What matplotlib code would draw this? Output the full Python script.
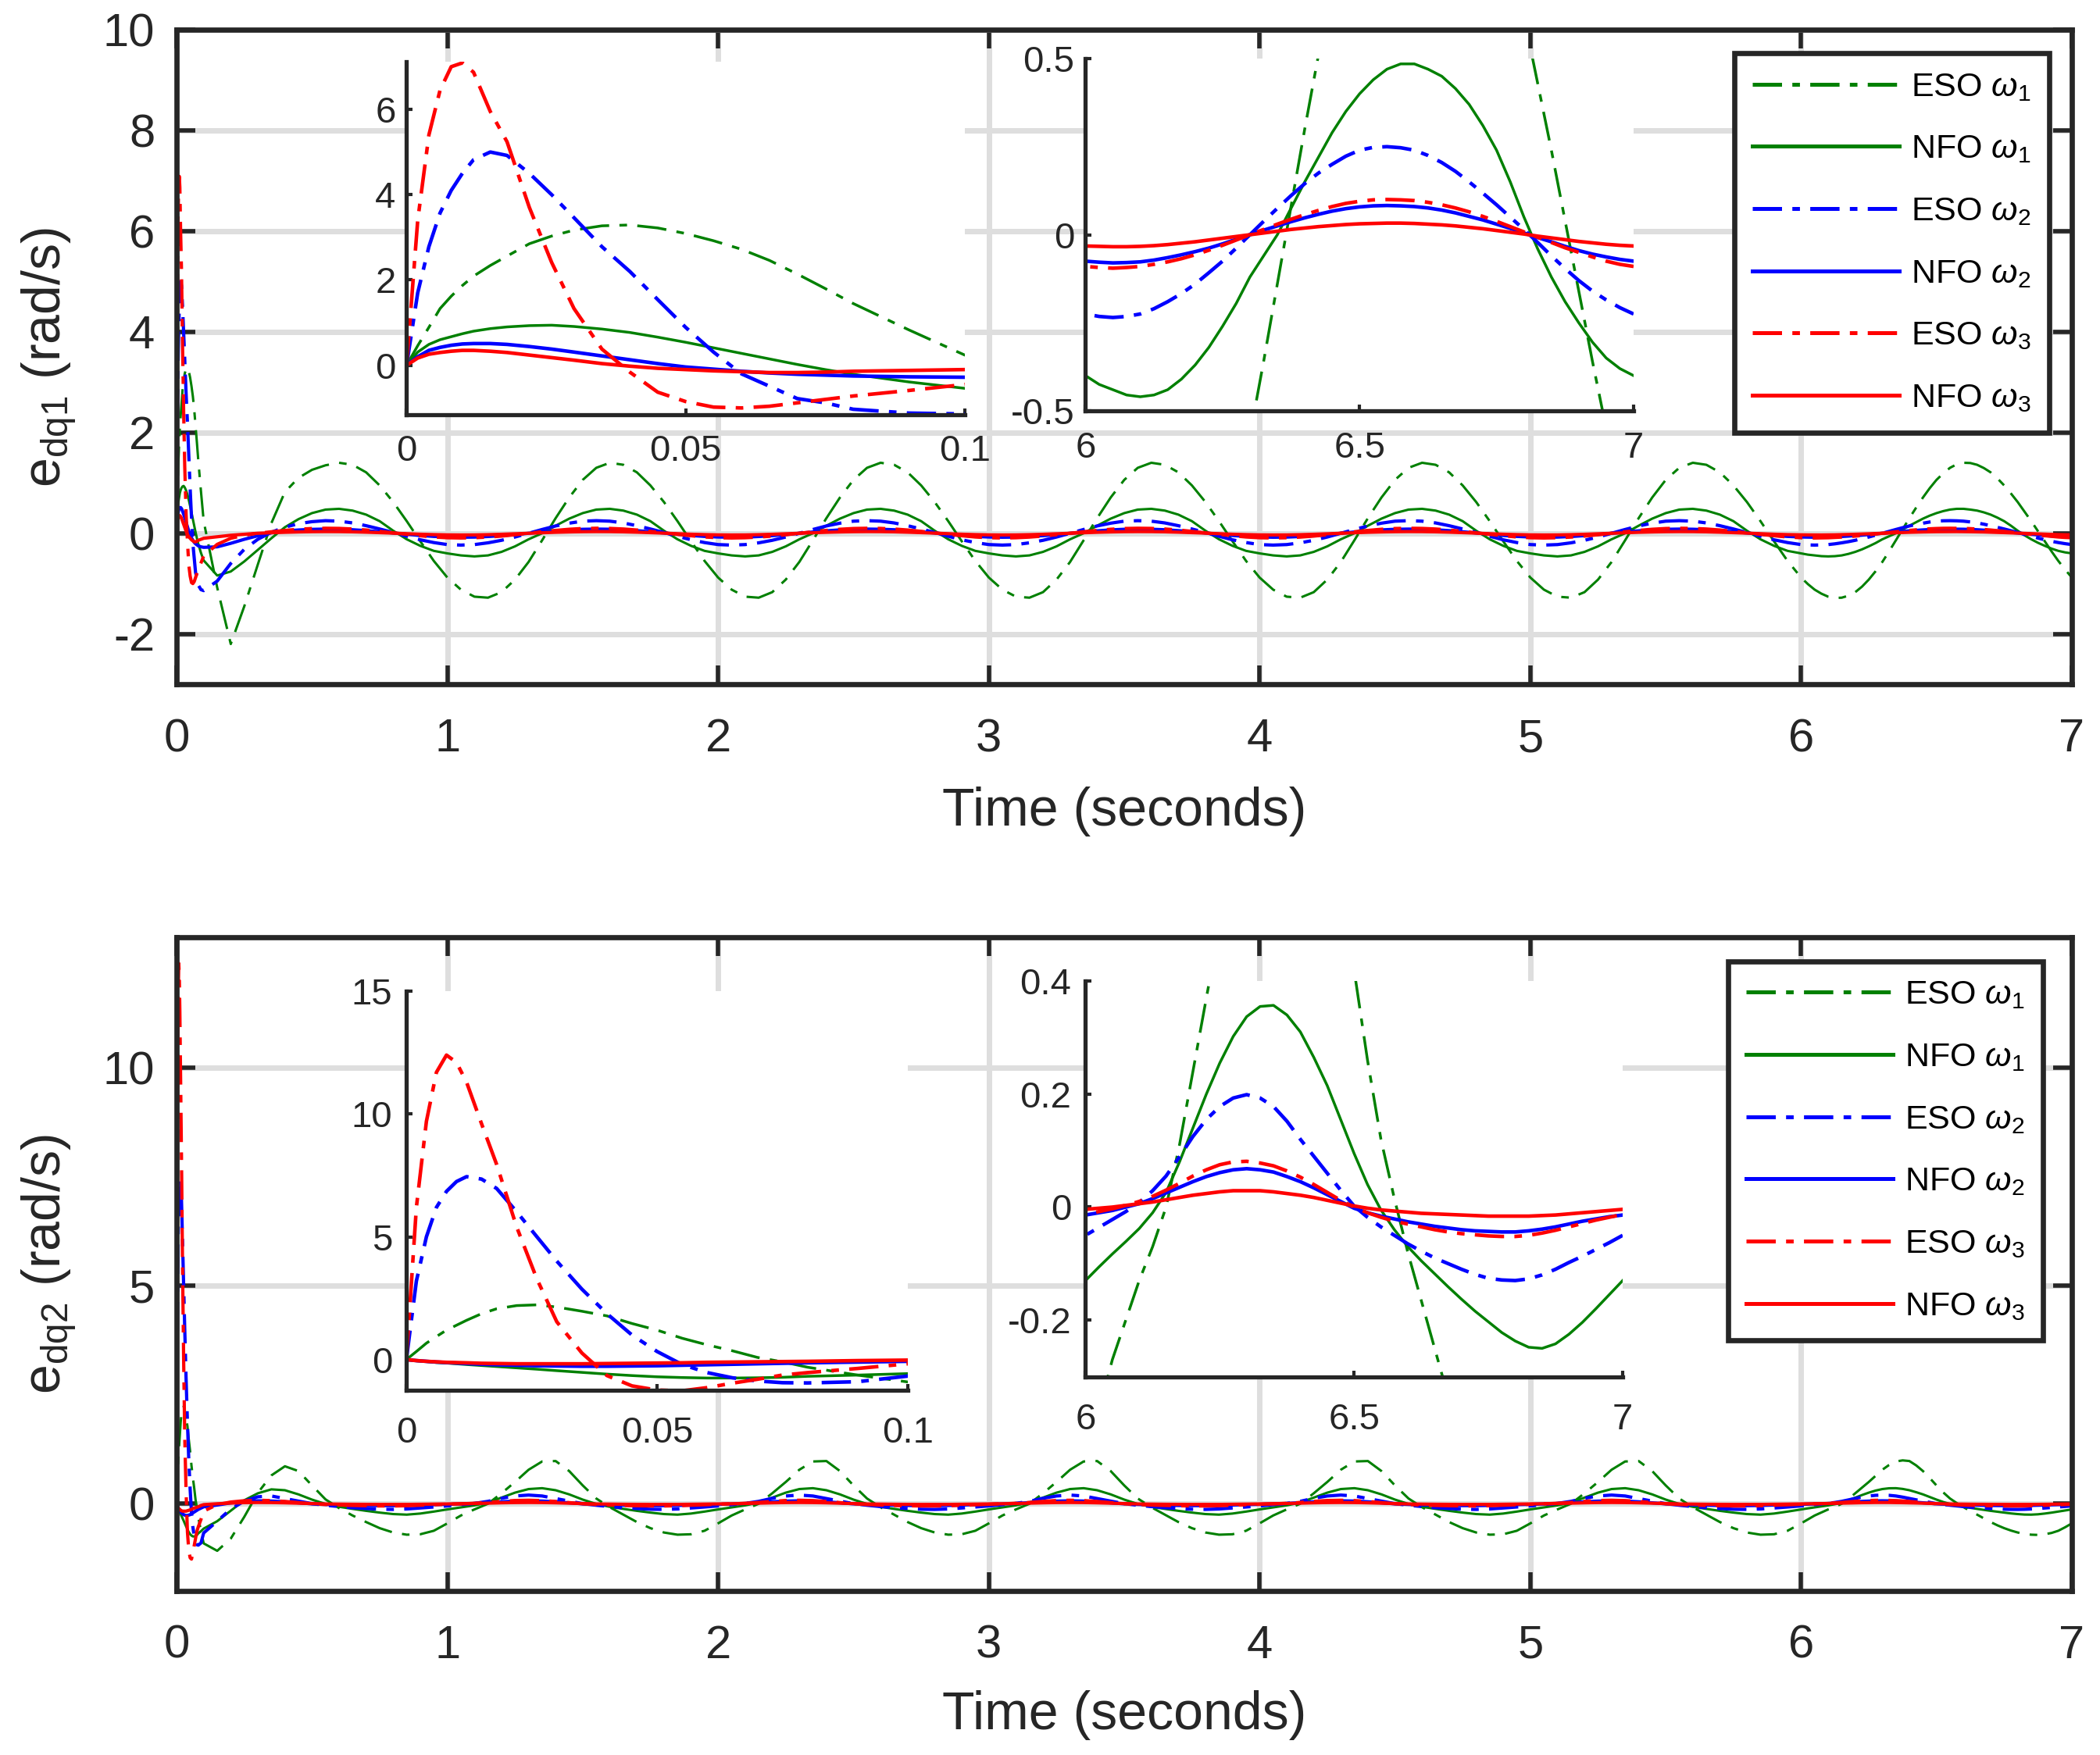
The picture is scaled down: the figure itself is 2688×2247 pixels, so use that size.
import matplotlib
matplotlib.use("Agg")
import matplotlib.pyplot as plt

plt.rcParams["font.family"] = ["Liberation Sans", "DejaVu Sans"]
plt.rcParams["mathtext.fontset"] = "custom"
plt.rcParams["mathtext.rm"] = "Liberation Sans"
plt.rcParams["mathtext.it"] = "Liberation Sans:italic"
plt.rcParams["axes.unicode_minus"] = False
plt.rcParams["lines.scale_dashes"] = False

# -----------------------------
# Data
# -----------------------------
# time samples: fine grid over the first 0.1 s, every 0.05 s up to 6 s,
# every 0.025 s over the last second (zoomed in the right-hand insets)
t_fine = [0, 0.002, 0.004, 0.006, 0.008, 0.010, 0.012, 0.015, 0.018, 0.022, 0.026, 0.030,
          0.035, 0.040, 0.045, 0.050, 0.055, 0.060, 0.065, 0.070, 0.075, 0.080, 0.090, 0.100]
t_rest = [
    0.15, 0.20, 0.25, 0.30, 0.35, 0.40, 0.45, 0.50, 0.55, 0.60, 0.65, 0.70, 0.75, 0.80, 0.85, 0.90, 0.95,
    1.00, 1.05, 1.10, 1.15, 1.20, 1.25, 1.30, 1.35, 1.40, 1.45, 1.50, 1.55, 1.60, 1.65, 1.70, 1.75, 1.80, 1.85, 1.90, 1.95,
    2.00, 2.05, 2.10, 2.15, 2.20, 2.25, 2.30, 2.35, 2.40, 2.45, 2.50, 2.55, 2.60, 2.65, 2.70, 2.75, 2.80, 2.85, 2.90, 2.95,
    3.00, 3.05, 3.10, 3.15, 3.20, 3.25, 3.30, 3.35, 3.40, 3.45, 3.50, 3.55, 3.60, 3.65, 3.70, 3.75, 3.80, 3.85, 3.90, 3.95,
    4.00, 4.05, 4.10, 4.15, 4.20, 4.25, 4.30, 4.35, 4.40, 4.45, 4.50, 4.55, 4.60, 4.65, 4.70, 4.75, 4.80, 4.85, 4.90, 4.95,
    5.00, 5.05, 5.10, 5.15, 5.20, 5.25, 5.30, 5.35, 5.40, 5.45, 5.50, 5.55, 5.60, 5.65, 5.70, 5.75, 5.80, 5.85, 5.90, 5.95,
    6.000, 6.025, 6.050, 6.075, 6.100, 6.125, 6.150, 6.175, 6.200, 6.225, 6.250, 6.275, 6.300, 6.325, 6.350, 6.375,
    6.400, 6.425, 6.450, 6.475, 6.500, 6.525, 6.550, 6.575, 6.600, 6.625, 6.650, 6.675, 6.700, 6.725, 6.750, 6.775,
    6.800, 6.825, 6.850, 6.875, 6.900, 6.925, 6.950, 6.975,
    7.00,
]
time = t_fine + t_rest

# ---- e_dq1 (top panel) ----
eso1_dq1 = [
    0, 0.46, 0.89, 1.33, 1.62, 1.87, 2.09, 2.34, 2.56, 2.85, 3.03, 3.17, 3.27, 3.29, 3.22, 3.09, 2.92, 2.72, 2.46, 2.14, 1.80, 1.45, 0.83, 0.24,
    -1.08, -2.20, -1.45, -0.62, 0.20, 0.82, 1.10, 1.26, 1.35, 1.40, 1.36, 1.21, 0.95, 0.62, 0.24, -0.16, -0.55,
    -0.88, -1.12, -1.26, -1.28, -1.17, -0.92, -0.57, -0.14, 0.30, 0.71, 1.06, 1.30, 1.40, 1.36, 1.21, 0.95, 0.62, 0.24, -0.16, -0.55,
    -0.88, -1.12, -1.26, -1.28, -1.17, -0.92, -0.57, -0.14, 0.30, 0.71, 1.06, 1.30, 1.40, 1.36, 1.21, 0.95, 0.62, 0.24, -0.16, -0.55,
    -0.88, -1.12, -1.26, -1.28, -1.17, -0.92, -0.57, -0.14, 0.30, 0.71, 1.06, 1.30, 1.40, 1.36, 1.21, 0.95, 0.62, 0.24, -0.16, -0.55,
    -0.88, -1.12, -1.26, -1.28, -1.17, -0.92, -0.57, -0.14, 0.30, 0.71, 1.06, 1.30, 1.40, 1.36, 1.21, 0.95, 0.62, 0.24, -0.16, -0.55,
    -0.88, -1.12, -1.26, -1.28, -1.17, -0.92, -0.57, -0.14, 0.30, 0.71, 1.06, 1.30, 1.40, 1.36, 1.21, 0.95, 0.62, 0.24, -0.16, -0.55,
    -0.88, -1.01, -1.12, -1.20, -1.26, -1.285, -1.28, -1.24, -1.17, -1.06, -0.92, -0.755, -0.57, -0.36, -0.14, 0.08,
    0.30, 0.51, 0.71, 0.895, 1.06, 1.19, 1.30, 1.37, 1.40, 1.395, 1.36, 1.295, 1.21, 1.09, 0.95, 0.79,
    0.62, 0.43, 0.24, 0.04, -0.16, -0.36, -0.55, -0.72,
    -0.88,
]
nfo1_dq1 = [
    0, 0.31, 0.49, 0.60, 0.67, 0.74, 0.80, 0.86, 0.90, 0.93, 0.94, 0.91, 0.85, 0.77, 0.66, 0.54, 0.41, 0.28, 0.15, 0.02, -0.10, -0.21, -0.39, -0.54,
    -0.84, -0.76, -0.56, -0.33, -0.10, 0.12, 0.28, 0.40, 0.47, 0.485, 0.45, 0.37, 0.24, 0.05, -0.12, -0.25, -0.35,
    -0.40, -0.44, -0.46, -0.44, -0.37, -0.26, -0.12, 0.00, 0.15, 0.29, 0.40, 0.47, 0.485, 0.45, 0.37, 0.24, 0.05, -0.12, -0.25, -0.35,
    -0.40, -0.44, -0.46, -0.44, -0.37, -0.26, -0.12, 0.00, 0.15, 0.29, 0.40, 0.47, 0.485, 0.45, 0.37, 0.24, 0.05, -0.12, -0.25, -0.35,
    -0.40, -0.44, -0.46, -0.44, -0.37, -0.26, -0.12, 0.00, 0.15, 0.29, 0.40, 0.47, 0.485, 0.45, 0.37, 0.24, 0.05, -0.12, -0.25, -0.35,
    -0.40, -0.44, -0.46, -0.44, -0.37, -0.26, -0.12, 0.00, 0.15, 0.29, 0.40, 0.47, 0.485, 0.45, 0.37, 0.24, 0.05, -0.12, -0.25, -0.35,
    -0.40, -0.44, -0.46, -0.44, -0.37, -0.26, -0.12, 0.00, 0.15, 0.29, 0.40, 0.47, 0.485, 0.45, 0.37, 0.24, 0.05, -0.12, -0.25, -0.35,
    -0.40, -0.425, -0.44, -0.455, -0.46, -0.455, -0.44, -0.41, -0.37, -0.32, -0.26, -0.195, -0.12, -0.06, 0.00, 0.075,
    0.15, 0.22, 0.29, 0.35, 0.40, 0.44, 0.47, 0.485, 0.485, 0.47, 0.45, 0.415, 0.37, 0.31, 0.24, 0.15,
    0.05, -0.04, -0.12, -0.19, -0.25, -0.305, -0.35, -0.38,
    -0.40,
]
eso2_dq1 = [
    0, 1.70, 2.78, 3.57, 4.10, 4.50, 4.82, 5.00, 4.92, 4.50, 4.00, 3.46, 2.78, 2.20, 1.54, 0.89, 0.31, -0.20, -0.49, -0.78, -0.88, -1.03, -1.12, -1.14,
    -0.95, -0.60, -0.32, -0.12, 0.02, 0.12, 0.19, 0.23, 0.25, 0.24, 0.205, 0.15, 0.085, 0.015, -0.06, -0.13, -0.185,
    -0.225, -0.235, -0.225, -0.19, -0.14, -0.075, 0.0, 0.075, 0.145, 0.20, 0.24, 0.25, 0.24, 0.205, 0.15, 0.085, 0.015, -0.06, -0.13, -0.185,
    -0.225, -0.235, -0.225, -0.19, -0.14, -0.075, 0.0, 0.075, 0.145, 0.20, 0.24, 0.25, 0.24, 0.205, 0.15, 0.085, 0.015, -0.06, -0.13, -0.185,
    -0.225, -0.235, -0.225, -0.19, -0.14, -0.075, 0.0, 0.075, 0.145, 0.20, 0.24, 0.25, 0.24, 0.205, 0.15, 0.085, 0.015, -0.06, -0.13, -0.185,
    -0.225, -0.235, -0.225, -0.19, -0.14, -0.075, 0.0, 0.075, 0.145, 0.20, 0.24, 0.25, 0.24, 0.205, 0.15, 0.085, 0.015, -0.06, -0.13, -0.185,
    -0.225, -0.235, -0.225, -0.19, -0.14, -0.075, 0.0, 0.075, 0.145, 0.20, 0.24, 0.25, 0.24, 0.205, 0.15, 0.085, 0.015, -0.06, -0.13, -0.185,
    -0.225, -0.232, -0.235, -0.232, -0.225, -0.21, -0.19, -0.167, -0.14, -0.108, -0.075, -0.038, 0.0, 0.038, 0.075, 0.111,
    0.145, 0.175, 0.20, 0.223, 0.24, 0.248, 0.25, 0.247, 0.24, 0.225, 0.205, 0.18, 0.15, 0.118, 0.085, 0.05,
    0.015, -0.022, -0.06, -0.096, -0.13, -0.16, -0.185, -0.207,
    -0.225,
]
nfo2_dq1 = [
    0, 0.20, 0.35, 0.42, 0.47, 0.50, 0.51, 0.51, 0.49, 0.44, 0.38, 0.31, 0.22, 0.13, 0.04, -0.04, -0.09, -0.14, -0.18, -0.21, -0.23, -0.25, -0.27, -0.28,
    -0.27, -0.20, -0.12, -0.05, 0.01, 0.045, 0.065, 0.078, 0.083, 0.08, 0.07, 0.052, 0.03, 0.005, -0.02, -0.045, -0.063,
    -0.075, -0.08, -0.077, -0.065, -0.048, -0.026, 0.0, 0.025, 0.048, 0.067, 0.079, 0.083, 0.08, 0.07, 0.052, 0.03, 0.005, -0.02, -0.045, -0.063,
    -0.075, -0.08, -0.077, -0.065, -0.048, -0.026, 0.0, 0.025, 0.048, 0.067, 0.079, 0.083, 0.08, 0.07, 0.052, 0.03, 0.005, -0.02, -0.045, -0.063,
    -0.075, -0.08, -0.077, -0.065, -0.048, -0.026, 0.0, 0.025, 0.048, 0.067, 0.079, 0.083, 0.08, 0.07, 0.052, 0.03, 0.005, -0.02, -0.045, -0.063,
    -0.075, -0.08, -0.077, -0.065, -0.048, -0.026, 0.0, 0.025, 0.048, 0.067, 0.079, 0.083, 0.08, 0.07, 0.052, 0.03, 0.005, -0.02, -0.045, -0.063,
    -0.075, -0.08, -0.077, -0.065, -0.048, -0.026, 0.0, 0.025, 0.048, 0.067, 0.079, 0.083, 0.08, 0.07, 0.052, 0.03, 0.005, -0.02, -0.045, -0.063,
    -0.075, -0.078, -0.08, -0.079, -0.077, -0.072, -0.065, -0.057, -0.048, -0.038, -0.026, -0.013, 0.0, 0.013, 0.025, 0.037,
    0.048, 0.058, 0.067, 0.074, 0.079, 0.082, 0.083, 0.082, 0.08, 0.076, 0.07, 0.062, 0.052, 0.042, 0.03, 0.018,
    0.005, -0.008, -0.02, -0.033, -0.045, -0.055, -0.063, -0.07,
    -0.075,
]
eso3_dq1 = [
    0, 3.40, 5.40, 6.45, 7.00, 7.09, 6.87, 5.95, 5.24, 3.70, 2.41, 1.33, 0.38, -0.16, -0.63, -0.85, -0.98, -1.00, -0.96, -0.88, -0.80, -0.72, -0.59, -0.45,
    -0.22, -0.10, -0.04, 0.0, 0.03, 0.057, 0.08, 0.095, 0.10, 0.097, 0.085, 0.065, 0.038, 0.008, -0.022, -0.05, -0.075,
    -0.09, -0.095, -0.09, -0.077, -0.057, -0.03, 0.0, 0.03, 0.057, 0.08, 0.095, 0.10, 0.097, 0.085, 0.065, 0.038, 0.008, -0.022, -0.05, -0.075,
    -0.09, -0.095, -0.09, -0.077, -0.057, -0.03, 0.0, 0.03, 0.057, 0.08, 0.095, 0.10, 0.097, 0.085, 0.065, 0.038, 0.008, -0.022, -0.05, -0.075,
    -0.09, -0.095, -0.09, -0.077, -0.057, -0.03, 0.0, 0.03, 0.057, 0.08, 0.095, 0.10, 0.097, 0.085, 0.065, 0.038, 0.008, -0.022, -0.05, -0.075,
    -0.09, -0.095, -0.09, -0.077, -0.057, -0.03, 0.0, 0.03, 0.057, 0.08, 0.095, 0.10, 0.097, 0.085, 0.065, 0.038, 0.008, -0.022, -0.05, -0.075,
    -0.09, -0.095, -0.09, -0.077, -0.057, -0.03, 0.0, 0.03, 0.057, 0.08, 0.095, 0.10, 0.097, 0.085, 0.065, 0.038, 0.008, -0.022, -0.05, -0.075,
    -0.09, -0.093, -0.095, -0.093, -0.09, -0.084, -0.077, -0.068, -0.057, -0.044, -0.03, -0.015, 0.0, 0.015, 0.03, 0.044,
    0.057, 0.069, 0.08, 0.089, 0.095, 0.099, 0.10, 0.099, 0.097, 0.092, 0.085, 0.076, 0.065, 0.052, 0.038, 0.023,
    0.008, -0.007, -0.022, -0.037, -0.05, -0.063, -0.075, -0.084,
    -0.09,
]
nfo3_dq1 = [
    0, 0.17, 0.26, 0.30, 0.33, 0.35, 0.35, 0.33, 0.30, 0.24, 0.18, 0.12, 0.04, -0.02, -0.07, -0.10, -0.13, -0.15, -0.17, -0.17, -0.16, -0.14, -0.12, -0.10,
    -0.07, -0.04, -0.02, 0.0, 0.01, 0.019, 0.026, 0.031, 0.033, 0.032, 0.028, 0.021, 0.012, 0.002, -0.009, -0.019, -0.027,
    -0.032, -0.034, -0.033, -0.028, -0.02, -0.01, 0.0, 0.01, 0.019, 0.026, 0.031, 0.033, 0.032, 0.028, 0.021, 0.012, 0.002, -0.009, -0.019, -0.027,
    -0.032, -0.034, -0.033, -0.028, -0.02, -0.01, 0.0, 0.01, 0.019, 0.026, 0.031, 0.033, 0.032, 0.028, 0.021, 0.012, 0.002, -0.009, -0.019, -0.027,
    -0.032, -0.034, -0.033, -0.028, -0.02, -0.01, 0.0, 0.01, 0.019, 0.026, 0.031, 0.033, 0.032, 0.028, 0.021, 0.012, 0.002, -0.009, -0.019, -0.027,
    -0.032, -0.034, -0.033, -0.028, -0.02, -0.01, 0.0, 0.01, 0.019, 0.026, 0.031, 0.033, 0.032, 0.028, 0.021, 0.012, 0.002, -0.009, -0.019, -0.027,
    -0.032, -0.034, -0.033, -0.028, -0.02, -0.01, 0.0, 0.01, 0.019, 0.026, 0.031, 0.033, 0.032, 0.028, 0.021, 0.012, 0.002, -0.009, -0.019, -0.027,
    -0.032, -0.033, -0.034, -0.034, -0.033, -0.031, -0.028, -0.024, -0.02, -0.015, -0.01, -0.005, 0.0, 0.005, 0.01, 0.015,
    0.019, 0.023, 0.026, 0.029, 0.031, 0.032, 0.033, 0.033, 0.032, 0.03, 0.028, 0.025, 0.021, 0.017, 0.012, 0.007,
    0.002, -0.004, -0.009, -0.014, -0.019, -0.023, -0.027, -0.03,
    -0.032,
]

# ---- e_dq2 (bottom panel) ----
eso1_dq2 = [
    0, 0.33, 0.67, 0.94, 1.20, 1.40, 1.60, 1.87, 2.07, 2.20, 2.23, 2.14, 1.97, 1.78, 1.47, 1.20, 0.87, 0.60, 0.36, 0.09, -0.09, -0.31, -0.63, -0.91,
    -1.08, -0.80, -0.30, 0.25, 0.65, 0.86, 0.75, 0.42, 0.10, -0.10, -0.27, -0.42, -0.56, -0.66, -0.71, -0.70, -0.62,
    -0.45, -0.27, -0.13, 0.0, 0.24, 0.50, 0.78, 0.97, 0.98, 0.75, 0.42, 0.12, -0.08, -0.25, -0.42, -0.56, -0.66, -0.71, -0.70, -0.62,
    -0.45, -0.27, -0.13, 0.0, 0.24, 0.50, 0.78, 0.97, 0.98, 0.75, 0.42, 0.12, -0.08, -0.25, -0.42, -0.56, -0.66, -0.71, -0.70, -0.62,
    -0.45, -0.27, -0.13, 0.0, 0.24, 0.50, 0.78, 0.97, 0.98, 0.75, 0.42, 0.12, -0.08, -0.25, -0.42, -0.56, -0.66, -0.71, -0.70, -0.62,
    -0.45, -0.27, -0.13, 0.0, 0.24, 0.50, 0.78, 0.97, 0.98, 0.75, 0.42, 0.12, -0.08, -0.25, -0.42, -0.56, -0.66, -0.71, -0.70, -0.62,
    -0.45, -0.27, -0.13, 0.0, 0.24, 0.50, 0.78, 0.97, 0.98, 0.75, 0.42, 0.12, -0.08, -0.25, -0.42, -0.56, -0.66, -0.71, -0.70, -0.62,
    -0.45, -0.36, -0.27, -0.20, -0.13, -0.07, 0.0, 0.11, 0.24, 0.37, 0.50, 0.64, 0.78, 0.89, 0.97, 0.995,
    0.98, 0.88, 0.75, 0.59, 0.42, 0.26, 0.12, 0.015, -0.08, -0.165, -0.25, -0.335, -0.42, -0.495, -0.56, -0.615,
    -0.66, -0.69, -0.71, -0.715, -0.70, -0.67, -0.62, -0.54,
    -0.45,
]
nfo1_dq2 = [
    0, -0.05, -0.08, -0.12, -0.14, -0.17, -0.20, -0.24, -0.28, -0.33, -0.39, -0.45, -0.52, -0.59, -0.65, -0.70, -0.73, -0.75, -0.75, -0.74, -0.72, -0.68, -0.63, -0.57,
    -0.40, -0.16, 0.08, 0.24, 0.33, 0.31, 0.215, 0.095, -0.005, -0.07, -0.118, -0.163, -0.203, -0.237, -0.25, -0.225, -0.18,
    -0.13, -0.083, -0.038, 0.026, 0.14, 0.255, 0.337, 0.357, 0.31, 0.215, 0.095, -0.005, -0.07, -0.118, -0.163, -0.203, -0.237, -0.25, -0.225, -0.18,
    -0.13, -0.083, -0.038, 0.026, 0.14, 0.255, 0.337, 0.357, 0.31, 0.215, 0.095, -0.005, -0.07, -0.118, -0.163, -0.203, -0.237, -0.25, -0.225, -0.18,
    -0.13, -0.083, -0.038, 0.026, 0.14, 0.255, 0.337, 0.357, 0.31, 0.215, 0.095, -0.005, -0.07, -0.118, -0.163, -0.203, -0.237, -0.25, -0.225, -0.18,
    -0.13, -0.083, -0.038, 0.026, 0.14, 0.255, 0.337, 0.357, 0.31, 0.215, 0.095, -0.005, -0.07, -0.118, -0.163, -0.203, -0.237, -0.25, -0.225, -0.18,
    -0.13, -0.083, -0.038, 0.026, 0.14, 0.255, 0.337, 0.357, 0.31, 0.215, 0.095, -0.005, -0.07, -0.118, -0.163, -0.203, -0.237, -0.25, -0.225, -0.18,
    -0.13, -0.106, -0.083, -0.061, -0.038, -0.01, 0.026, 0.08, 0.14, 0.20, 0.255, 0.302, 0.337, 0.355, 0.357, 0.34,
    0.31, 0.265, 0.215, 0.155, 0.095, 0.04, -0.005, -0.04, -0.07, -0.095, -0.118, -0.141, -0.163, -0.184, -0.203, -0.222,
    -0.237, -0.248, -0.25, -0.242, -0.225, -0.204, -0.18, -0.155,
    -0.13,
]
eso2_dq2 = [
    0, 3.20, 5.00, 6.20, 6.85, 7.25, 7.45, 7.35, 6.97, 6.02, 5.01, 4.01, 2.87, 1.87, 1.00, 0.33, -0.20, -0.53, -0.74, -0.87, -0.94, -0.95, -0.90, -0.67,
    -0.40, -0.12, 0.06, 0.16, 0.178, 0.12, 0.06, 0.002, -0.035, -0.065, -0.09, -0.11, -0.126, -0.13, -0.12, -0.098, -0.075,
    -0.05, -0.022, 0.008, 0.055, 0.125, 0.178, 0.199, 0.178, 0.12, 0.06, 0.002, -0.035, -0.065, -0.09, -0.11, -0.126, -0.13, -0.12, -0.098, -0.075,
    -0.05, -0.022, 0.008, 0.055, 0.125, 0.178, 0.199, 0.178, 0.12, 0.06, 0.002, -0.035, -0.065, -0.09, -0.11, -0.126, -0.13, -0.12, -0.098, -0.075,
    -0.05, -0.022, 0.008, 0.055, 0.125, 0.178, 0.199, 0.178, 0.12, 0.06, 0.002, -0.035, -0.065, -0.09, -0.11, -0.126, -0.13, -0.12, -0.098, -0.075,
    -0.05, -0.022, 0.008, 0.055, 0.125, 0.178, 0.199, 0.178, 0.12, 0.06, 0.002, -0.035, -0.065, -0.09, -0.11, -0.126, -0.13, -0.12, -0.098, -0.075,
    -0.05, -0.022, 0.008, 0.055, 0.125, 0.178, 0.199, 0.178, 0.12, 0.06, 0.002, -0.035, -0.065, -0.09, -0.11, -0.126, -0.13, -0.12, -0.098, -0.075,
    -0.05, -0.036, -0.022, -0.008, 0.008, 0.029, 0.055, 0.089, 0.125, 0.155, 0.178, 0.193, 0.199, 0.193, 0.178, 0.152,
    0.12, 0.09, 0.06, 0.03, 0.002, -0.018, -0.035, -0.05, -0.065, -0.078, -0.09, -0.10, -0.11, -0.119, -0.126, -0.129,
    -0.13, -0.127, -0.12, -0.11, -0.098, -0.087, -0.075, -0.063,
    -0.05,
]
nfo2_dq2 = [
    0, -0.04, -0.07, -0.10, -0.12, -0.14, -0.16, -0.19, -0.21, -0.23, -0.25, -0.26, -0.27, -0.27, -0.26, -0.25, -0.23, -0.21, -0.19, -0.17, -0.15, -0.13, -0.10, -0.07,
    -0.03, 0.02, 0.05, 0.068, 0.062, 0.045, 0.022, -0.002, -0.016, -0.026, -0.034, -0.04, -0.043, -0.044, -0.039, -0.03, -0.021,
    -0.014, -0.006, 0.006, 0.025, 0.045, 0.061, 0.068, 0.062, 0.045, 0.022, -0.002, -0.016, -0.026, -0.034, -0.04, -0.043, -0.044, -0.039, -0.03, -0.021,
    -0.014, -0.006, 0.006, 0.025, 0.045, 0.061, 0.068, 0.062, 0.045, 0.022, -0.002, -0.016, -0.026, -0.034, -0.04, -0.043, -0.044, -0.039, -0.03, -0.021,
    -0.014, -0.006, 0.006, 0.025, 0.045, 0.061, 0.068, 0.062, 0.045, 0.022, -0.002, -0.016, -0.026, -0.034, -0.04, -0.043, -0.044, -0.039, -0.03, -0.021,
    -0.014, -0.006, 0.006, 0.025, 0.045, 0.061, 0.068, 0.062, 0.045, 0.022, -0.002, -0.016, -0.026, -0.034, -0.04, -0.043, -0.044, -0.039, -0.03, -0.021,
    -0.014, -0.006, 0.006, 0.025, 0.045, 0.061, 0.068, 0.062, 0.045, 0.022, -0.002, -0.016, -0.026, -0.034, -0.04, -0.043, -0.044, -0.039, -0.03, -0.021,
    -0.014, -0.01, -0.006, 0.0, 0.006, 0.015, 0.025, 0.035, 0.045, 0.054, 0.061, 0.066, 0.068, 0.066, 0.062, 0.054,
    0.045, 0.034, 0.022, 0.01, -0.002, -0.01, -0.016, -0.021, -0.026, -0.03, -0.034, -0.037, -0.04, -0.042, -0.043, -0.044,
    -0.044, -0.042, -0.039, -0.035, -0.03, -0.025, -0.021, -0.017,
    -0.014,
]
eso3_dq2 = [
    0, 6.20, 9.70, 11.70, 12.40, 12.10, 11.30, 9.60, 7.95, 5.40, 3.30, 1.54, 0.27, -0.65, -1.07, -1.24, -1.27, -1.14, -0.96, -0.80, -0.63, -0.53, -0.36, -0.17,
    -0.02, 0.04, 0.07, 0.081, 0.073, 0.053, 0.026, 0.0, -0.018, -0.03, -0.04, -0.047, -0.051, -0.052, -0.046, -0.035, -0.023,
    -0.013, -0.003, 0.01, 0.03, 0.055, 0.075, 0.081, 0.073, 0.053, 0.026, 0.0, -0.018, -0.03, -0.04, -0.047, -0.051, -0.052, -0.046, -0.035, -0.023,
    -0.013, -0.003, 0.01, 0.03, 0.055, 0.075, 0.081, 0.073, 0.053, 0.026, 0.0, -0.018, -0.03, -0.04, -0.047, -0.051, -0.052, -0.046, -0.035, -0.023,
    -0.013, -0.003, 0.01, 0.03, 0.055, 0.075, 0.081, 0.073, 0.053, 0.026, 0.0, -0.018, -0.03, -0.04, -0.047, -0.051, -0.052, -0.046, -0.035, -0.023,
    -0.013, -0.003, 0.01, 0.03, 0.055, 0.075, 0.081, 0.073, 0.053, 0.026, 0.0, -0.018, -0.03, -0.04, -0.047, -0.051, -0.052, -0.046, -0.035, -0.023,
    -0.013, -0.003, 0.01, 0.03, 0.055, 0.075, 0.081, 0.073, 0.053, 0.026, 0.0, -0.018, -0.03, -0.04, -0.047, -0.051, -0.052, -0.046, -0.035, -0.023,
    -0.013, -0.008, -0.003, 0.003, 0.01, 0.019, 0.03, 0.042, 0.055, 0.066, 0.075, 0.08, 0.081, 0.078, 0.073, 0.064,
    0.053, 0.04, 0.026, 0.012, 0.0, -0.01, -0.018, -0.025, -0.03, -0.035, -0.04, -0.044, -0.047, -0.049, -0.051, -0.052,
    -0.052, -0.05, -0.046, -0.041, -0.035, -0.029, -0.023, -0.018,
    -0.013,
]
nfo3_dq2 = [
    0, -0.04, -0.07, -0.09, -0.11, -0.12, -0.13, -0.15, -0.16, -0.17, -0.17, -0.17, -0.17, -0.16, -0.15, -0.14, -0.13, -0.11, -0.10, -0.09, -0.08, -0.07, -0.04, -0.02,
    0.0, 0.015, 0.025, 0.029, 0.027, 0.021, 0.012, 0.002, -0.005, -0.009, -0.012, -0.014, -0.016, -0.016, -0.015, -0.012, -0.008,
    -0.004, 0.0, 0.006, 0.013, 0.021, 0.027, 0.029, 0.027, 0.021, 0.012, 0.002, -0.005, -0.009, -0.012, -0.014, -0.016, -0.016, -0.015, -0.012, -0.008,
    -0.004, 0.0, 0.006, 0.013, 0.021, 0.027, 0.029, 0.027, 0.021, 0.012, 0.002, -0.005, -0.009, -0.012, -0.014, -0.016, -0.016, -0.015, -0.012, -0.008,
    -0.004, 0.0, 0.006, 0.013, 0.021, 0.027, 0.029, 0.027, 0.021, 0.012, 0.002, -0.005, -0.009, -0.012, -0.014, -0.016, -0.016, -0.015, -0.012, -0.008,
    -0.004, 0.0, 0.006, 0.013, 0.021, 0.027, 0.029, 0.027, 0.021, 0.012, 0.002, -0.005, -0.009, -0.012, -0.014, -0.016, -0.016, -0.015, -0.012, -0.008,
    -0.004, 0.0, 0.006, 0.013, 0.021, 0.027, 0.029, 0.027, 0.021, 0.012, 0.002, -0.005, -0.009, -0.012, -0.014, -0.016, -0.016, -0.015, -0.012, -0.008,
    -0.004, -0.002, 0.0, 0.003, 0.006, 0.009, 0.013, 0.017, 0.021, 0.024, 0.027, 0.029, 0.029, 0.029, 0.027, 0.024,
    0.021, 0.017, 0.012, 0.007, 0.002, -0.002, -0.005, -0.007, -0.009, -0.011, -0.012, -0.013, -0.014, -0.015, -0.016, -0.016,
    -0.016, -0.016, -0.015, -0.014, -0.012, -0.01, -0.008, -0.006,
    -0.004,
]

labels = ["ESO $\\omega_1$", "NFO $\\omega_1$", "ESO $\\omega_2$",
          "NFO $\\omega_2$", "ESO $\\omega_3$", "NFO $\\omega_3$"]
dq1_series = [eso1_dq1, nfo1_dq1, eso2_dq1, nfo2_dq1, eso3_dq1, nfo3_dq1]
dq2_series = [eso1_dq2, nfo1_dq2, eso2_dq2, nfo2_dq2, eso3_dq2, nfo3_dq2]

main_xticks = [0, 1, 2, 3, 4, 5, 6, 7]
dq1_yticks = [-2, 0, 2, 4, 6, 8, 10]
dq2_yticks = [0, 5, 10]

# -----------------------------
# Styles
# -----------------------------
INK = "#262626"
GRID = "#dedede"
DASHDOT = (0, (27, 9.5, 7, 9.5))
GREEN, BLUE, RED = "#008000", "#0000ff", "#ff0000"
styles = [(GREEN, DASHDOT, 2.2), (GREEN, "-", 2.2), (BLUE, DASHDOT, 3.0),
          (BLUE, "-", 3.0), (RED, DASHDOT, 3.0), (RED, "-", 3.0)]


def fmt(v):
    return f"{v:g}"


def draw_main(ax, series, ylim, yticks, ylabel, xlabel_y, legend_xy):
    for vals, (col, ls, lw), lab in zip(series, styles, labels):
        ax.plot(time, vals, color=col, linestyle=ls, linewidth=lw, label=lab)
    ax.set_xlim(0, 7)
    ax.set_ylim(*ylim)
    ax.set_xticks(main_xticks)
    ax.set_xticklabels([fmt(v) for v in main_xticks])
    ax.set_yticks(yticks)
    ax.set_yticklabels([fmt(v) for v in yticks])
    ax.grid(True, color=GRID, linewidth=5)
    ax.set_axisbelow(True)
    ax.tick_params(direction="in", length=17.5, width=4, top=True, right=True,
                   colors=INK, labelsize=43)
    ax.tick_params(axis="x", pad=31)
    ax.tick_params(axis="y", pad=20)
    for sp in ax.spines.values():
        sp.set_linewidth(4.8)
        sp.set_color(INK)
    ax.set_xlabel("Time (seconds)", fontsize=49, color=INK)
    ax.xaxis.label.set_va("center")
    ax.xaxis.set_label_coords(0.5, xlabel_y)
    ax.set_ylabel(ylabel, fontsize=49, color=INK)
    ax.yaxis.set_label_coords(-0.052, 0.5)

    leg = ax.legend(loc="upper right", bbox_to_anchor=legend_xy, borderaxespad=0,
                    fontsize=31, handlelength=4.35, handletextpad=0.35,
                    labelspacing=0.92, borderpad=0.55, fancybox=False,
                    framealpha=1, edgecolor=INK, facecolor="white")
    leg.get_frame().set_linewidth(4.8)
    for ln in leg.get_lines():
        ln.set_linewidth(3.6)


def draw_inset(rect, series, xlim, ylim, xticks, yticks, xpad, ypad):
    ins = fig.add_axes(rect, facecolor="white")
    for vals, (col, ls, lw) in zip(series, styles):
        ins.plot(time, vals, color=col, linestyle=ls, linewidth=lw + 0.3)
    ins.set_xlim(*xlim)
    ins.set_ylim(*ylim)
    ins.set_xticks(xticks)
    ins.set_xticklabels([fmt(v) for v in xticks])
    ins.set_yticks(yticks)
    ins.set_yticklabels([fmt(v) for v in yticks])
    ins.spines["top"].set_visible(False)
    ins.spines["right"].set_visible(False)
    for side in ("left", "bottom"):
        ins.spines[side].set_linewidth(3.8)
        ins.spines[side].set_color(INK)
    ins.tick_params(direction="in", length=6, width=3, colors=INK, labelsize=34)
    ins.tick_params(axis="x", pad=xpad)
    ins.tick_params(axis="y", pad=ypad)
    return ins


fig = plt.figure(figsize=(26.88, 22.47), dpi=100)

# -----------------------------
# Panel 1: e_dq1
# -----------------------------
ax1 = fig.add_axes([0.0841, 0.6101, 0.9025, 0.3729])
draw_main(ax1, dq1_series, (-3, 10), dq1_yticks, "e$_{\\mathrm{dq1}}$ (rad/s)",
          -0.195, (0.9881, 0.9642))
draw_inset([0.1936, 0.7639, 0.2658, 0.2010], dq1_series, (0, 0.1), (-1.15, 7.12),
           [0, 0.05, 0.1], [0, 2, 4, 6], 18.7, 10)
draw_inset([0.5169, 0.7659, 0.2610, 0.2007], dq1_series, (6, 7), (-0.5, 0.5),
           [6, 6.5, 7], [-0.5, 0, 0.5], 18.7, 10)

# -----------------------------
# Panel 2: e_dq2
# -----------------------------
ax2 = fig.add_axes([0.0841, 0.0935, 0.9025, 0.3725])
draw_main(ax2, dq2_series, (-2, 13), dq2_yticks, "e$_{\\mathrm{dq2}}$ (rad/s)",
          -0.19, (0.9848, 0.963))
draw_inset([0.1935, 0.2078, 0.2388, 0.2274], dq2_series, (0, 0.1), (-1.25, 15),
           [0, 0.05, 0.1], [0, 5, 10, 15], 23.8, 13)
draw_inset([0.5169, 0.2156, 0.2558, 0.2254], dq2_series, (6, 7), (-0.3, 0.4),
           [6, 6.5, 7], [-0.2, 0, 0.2, 0.4], 23.8, 13)

fig.savefig("out.png", dpi=100, facecolor="white")
plt.close(fig)
print("Saved: out.png")
